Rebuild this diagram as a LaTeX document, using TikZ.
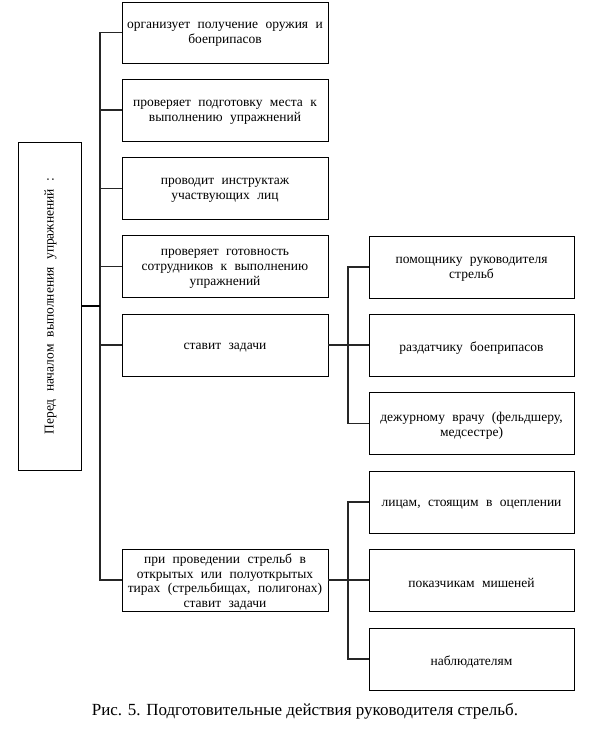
\documentclass[tikz,border=0pt]{standalone}
\usepackage{fontspec}
\setmainfont{Liberation Serif}
\newcommand{\boxfont}{\fontsize{13.5}{14.8}\selectfont\spaceskip=0.55em plus 0.1em}
\begin{document}
\begin{tikzpicture}[x=1pt,y=-1pt,
  box/.style={draw=black,line width=0.8pt,rectangle,inner sep=0pt},
  c1/.style={box,minimum width=206pt,minimum height=62pt},
  c2/.style={box,minimum width=205pt,minimum height=62pt},
  txt/.style={align=center,inner sep=0pt,font=\boxfont},
  conn/.style={draw=black!85,line width=1.1pt},
  mainconn/.style={draw=black,line width=1.8pt}]
\useasboundingbox (0,0) rectangle (599,739);
\fill[white] (0,0) rectangle (599,739);
\node[box,minimum width=63pt,minimum height=328pt] (L) at (49.5,306) {};
\node[txt,rotate=90] (Lt) at ([xshift=1pt]L.center) {Перед началом выполнения упражнений :};
\node[c1,minimum height=61pt] (b1) at (225,32.5) {};
\node[c1] (b2) at (225,110) {};
\node[c1] (b3) at (225,188.5) {};
\node[c1] (b4) at (225,266.5) {};
\node[c1] (b5) at (225,345) {};
\node[c1] (b6) at (225,580) {};
\node[c2] (A) at (471.5,267) {};
\node[c2] (B) at (471.5,345) {};
\node[c2] (C) at (471.5,423.5) {};
\node[c2] (D) at (471.5,502) {};
\node[c2] (E) at (471.5,580) {};
\node[c2] (F) at (471.5,659) {};
\node[txt] (b1t) at ([yshift=-2pt]b1.center) {организует получение оружия и\\боеприпасов};
\node[txt] (b2t) at ([yshift=-2pt]b2.center) {проверяет подготовку места к\\выполнению упражнений};
\node[txt] (b3t) at ([yshift=-2pt]b3.center) {проводит инструктаж\\участвующих лиц};
\node[txt] (b4t) at ([yshift=-2pt]b4.center) {проверяет готовность\\сотрудников к выполнению\\упражнений};
\node[txt] (b5t) at ([yshift=-3pt]b5.center) {ставит задачи};
\node[txt] (b6t) at ([yshift=-2pt]b6.center) {при проведении стрельб в\\открытых или полуоткрытых\\тирах (стрельбищах, полигонах)\\ставит задачи};
\node[txt] (At) at ([yshift=-2pt]A.center) {помощнику руководителя\\стрельб};
\node[txt] (Bt) at ([yshift=-3pt]B.center) {раздатчику боеприпасов};
\node[txt] (Ct) at ([yshift=-2pt]C.center) {дежурному врачу (фельдшеру,\\медсестре)};
\node[txt] (Dt) at ([yshift=-3pt]D.center) {лицам, стоящим в оцеплении};
\node[txt] (Et) at ([yshift=-3pt]E.center) {показчикам мишеней};
\node[txt] (Ft) at ([yshift=-3pt]F.center) {наблюдателям};
\node[font=\fontsize{17}{20}\selectfont] (cap) at (305,711) {Рис. 5. Подготовительные действия руководителя стрельб.};
\coordinate (tr) at (100,0);
\coordinate (s) at (348,0);
\draw[conn] (b1.west) -- (b1.west -| tr) -- (b6.west -| tr) -- (b6.west);
\foreach \b in {b2,b3,b4,b5} \draw[conn] (\b.west) -- (\b.west -| tr);
\draw[mainconn] (L.east) -- (L.east -| tr);
\draw[conn] (A.west) -- (A.west -| s) -- (C.west -| s) -- (C.west);
\draw[conn] (b5.east) -- (B.west);
\draw[conn] (D.west) -- (D.west -| s) -- (F.west -| s) -- (F.west);
\draw[conn] (b6.east) -- (E.west);
\end{tikzpicture}
\end{document}
